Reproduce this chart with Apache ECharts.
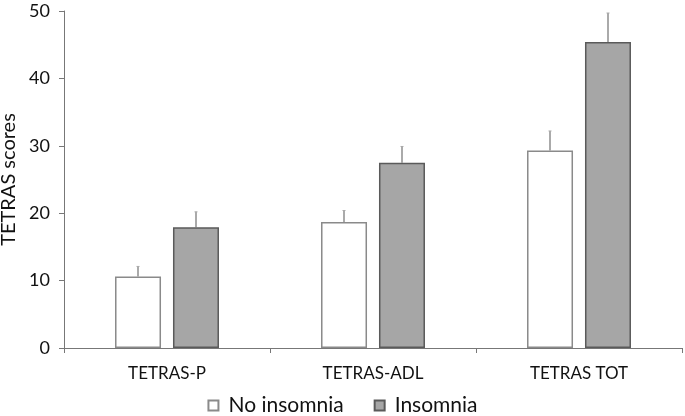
<!DOCTYPE html>
<html>
<head>
<meta charset="utf-8">
<script src="https://cdn.jsdelivr.net/npm/echarts@6/dist/echarts.min.js"></script>
<style>
  html, body { margin: 0; padding: 0; background: #fff; }
  #chart { width: 685px; height: 416px; }
</style>
</head>
<body>
<div id="chart"></div>
<script>
var categories = ['TETRAS-P', 'TETRAS-ADL', 'TETRAS TOT'];
var noInsomnia = [10.6, 18.7, 29.3];
var noInsomniaErr = [12.1, 20.4, 32.2];
var insomnia = [17.9, 27.5, 45.4];
var insomniaErr = [20.2, 29.9, 49.7];

var barW = 46;
var half = 29;   // bar center offset from category center

function errorRenderer(offset, color) {
  return function (params, api) {
    var base = api.coord([api.value(0), api.value(1)]);
    var top = api.coord([api.value(0), api.value(2)]);
    var x = base[0] + offset;
    return {
      type: 'group',
      children: [
        { type: 'line', shape: { x1: x, y1: base[1], x2: x, y2: top[1] },
          style: { stroke: color, lineWidth: 2 } },
        { type: 'line', shape: { x1: x - 1.5, y1: top[1], x2: x + 1.5, y2: top[1] },
          style: { stroke: color, lineWidth: 1 } }
      ]
    };
  };
}

function errData(vals, errs) {
  return vals.map(function (v, i) { return [i, v, errs[i]]; });
}

var chart = echarts.init(document.getElementById('chart'));
var option = {
  animation: false,
  textStyle: { fontFamily: 'Lato' },
  grid: { left: 64, right: 3, top: 11, bottom: 68, outerBoundsMode: 'none', containLabel: false },
  legend: {
    top: 390,
    left: 'center',
    itemWidth: 10,
    itemHeight: 10,
    itemGap: 30,
    icon: 'rect',
    textStyle: { fontSize: 21, color: '#111', fontFamily: 'Lato', padding: [0, 0, 0, 5] },
    data: ['No insomnia', 'Insomnia']
  },
  xAxis: {
    type: 'category',
    data: categories,
    axisLine: { lineStyle: { color: '#777', width: 1 } },
    axisTick: { show: true, length: 5, lineStyle: { color: '#777' } },
    axisLabel: { fontSize: 17, color: '#111', margin: 17 }
  },
  yAxis: {
    type: 'value',
    min: 0,
    max: 50,
    interval: 10,
    name: 'TETRAS scores',
    nameLocation: 'middle',
    nameGap: 42,
    nameTextStyle: { fontSize: 20, color: '#111' },
    axisLine: { show: true, lineStyle: { color: '#777' } },
    axisTick: { show: true, length: 5, lineStyle: { color: '#777' } },
    axisLabel: { fontSize: 18, color: '#111', margin: 14 },
    splitLine: { show: false }
  },
  series: [
    {
      name: 'No insomnia',
      type: 'bar',
      data: noInsomnia,
      barWidth: barW,
      barGap: '26%',
      itemStyle: { color: '#ffffff', borderColor: '#8a8a8a', borderWidth: 1.5 }
    },
    {
      name: 'Insomnia',
      type: 'bar',
      data: insomnia,
      barWidth: barW,
      itemStyle: { color: '#a6a6a6', borderColor: '#5a5a5a', borderWidth: 1.5 }
    },
    {
      type: 'custom',
      renderItem: errorRenderer(-half, '#aaaaaa'),
      data: errData(noInsomnia, noInsomniaErr),
      z: 1
    },
    {
      type: 'custom',
      renderItem: errorRenderer(half, '#aaaaaa'),
      data: errData(insomnia, insomniaErr),
      z: 1
    }
  ]
};
chart.setOption(option);
</script>
</body>
</html>
